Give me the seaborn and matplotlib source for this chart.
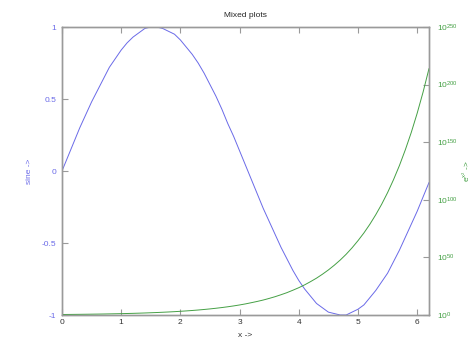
import numpy as np
import pandas as pd
import matplotlib
matplotlib.use("Agg")
import matplotlib.pyplot as plt
import seaborn as sns
from matplotlib.ticker import FixedLocator, FixedFormatter

# ---- data ----
x_vals = [round(0.1 * i, 1) for i in range(63)]  # 0.0 .. 6.2
sine_vals = [0.00, 0.10, 0.20, 0.30, 0.39, 0.48, 0.56, 0.64, 0.72, 0.78,
             0.84, 0.89, 0.93, 0.96, 0.99, 1.00, 1.00, 0.99, 0.97, 0.95,
             0.91, 0.86, 0.81, 0.75, 0.68, 0.60, 0.52, 0.43, 0.33, 0.24,
             0.14, 0.04, -0.06, -0.16, -0.26, -0.35, -0.44, -0.53, -0.61, -0.69,
             -0.76, -0.82, -0.87, -0.92, -0.95, -0.98, -0.99, -1.00, -1.00, -0.98,
             -0.96, -0.93, -0.88, -0.83, -0.77, -0.71, -0.63, -0.55, -0.46, -0.37,
             -0.28, -0.18, -0.08]
# exponents (base 10) of the green curve, read on the right log axis
exp_exponents = [0.43, 0.48, 0.53, 0.59, 0.65, 0.72, 0.79, 0.87, 0.97, 1.07,
                 1.18, 1.30, 1.44, 1.59, 1.76, 1.95, 2.15, 2.38, 2.63, 2.90,
                 3.21, 3.55, 3.92, 4.33, 4.79, 5.29, 5.85, 6.46, 7.14, 7.89,
                 8.72, 9.64, 10.7, 11.8, 13.0, 14.4, 15.9, 17.6, 19.4, 21.5,
                 23.7, 26.2, 29.0, 32.0, 35.4, 39.1, 43.2, 47.7, 52.7, 58.3,
                 64.5, 71.2, 78.7, 87.0, 96.1, 106.2, 117.4, 129.7, 143.4, 158.4,
                 175.1, 193.5, 213.9]
x_ticks = [0, 1, 2, 3, 4, 5, 6]
y1_ticks = [-1, -0.5, 0, 0.5, 1]
y1_labels = ["-1", "-0.5", "0", "0.5", "1"]
y2_exps = [0, 50, 100, 150, 200, 250]

title = "Mixed plots"
xlabel = "x ->"
y1label = "sine ->"
y2label = r"e$^{x^2}$ ->"

blue = "#6a6ae8"
green = "#45a045"
frame = "#9a9a9a"

sns.set_style("white")
plt.rcParams["font.family"] = ["Liberation Sans", "DejaVu Sans"]
plt.rcParams["mathtext.fontset"] = "custom"
plt.rcParams["mathtext.rm"] = "Liberation Sans"
plt.rcParams["mathtext.it"] = "Liberation Sans"

df = pd.DataFrame({"x": x_vals, "sine": sine_vals,
                   "expo": [10.0 ** e for e in exp_exponents]})

fig = plt.figure(figsize=(4.74, 3.55), dpi=100)
ax1 = fig.add_axes([62 / 474, 1 - 315 / 355, (429 - 62) / 474, (315 - 27) / 355])
ax2 = ax1.twinx()

sns.lineplot(data=df, x="x", y="sine", ax=ax1, color=blue, linewidth=0.7)
sns.lineplot(data=df, x="x", y="expo", ax=ax2, color=green, linewidth=0.7)

ax1.set_xlim(0, 6.2)
ax1.set_ylim(-1, 1)
ax2.set_yscale("log")
ax2.set_ylim(1, 1e250)

fs = 6
ax1.set_xticks(x_ticks)
ax1.set_xticklabels([str(t) for t in x_ticks])
ax1.set_yticks(y1_ticks)
ax1.set_yticklabels(y1_labels)
ax2.yaxis.set_major_locator(FixedLocator([10.0 ** e for e in y2_exps]))
ax2.yaxis.set_major_formatter(FixedFormatter([r"10$^{%d}$" % e for e in y2_exps]))
ax2.yaxis.set_minor_locator(FixedLocator([]))

ax1.tick_params(axis="x", direction="in", length=4, width=0.8, color=frame,
                labelsize=fs, labelcolor="#333333", top=True, bottom=True, pad=3)
ax1.tick_params(axis="y", direction="in", length=4, width=0.8, color=frame,
                labelsize=fs, labelcolor=blue, left=True, right=False, pad=4)
ax2.tick_params(axis="y", direction="in", length=4, width=0.8, color=frame,
                labelsize=fs, labelcolor=green, right=True, left=False, pad=6)
ax2.tick_params(axis="y", which="minor", length=0)

for ax in (ax1, ax2):
    for s in ax.spines.values():
        s.set_color(frame)
        s.set_linewidth(1.0)
        s.set_visible(True)

ax1.set_title(title, fontsize=fs, pad=7)
ax1.set_xlabel(xlabel, fontsize=fs, labelpad=4, color="#333333")
ax1.set_ylabel(y1label, fontsize=fs, color=blue, labelpad=6)
ax2.set_ylabel(y2label, fontsize=fs, color=green, labelpad=2)

fig.savefig("out.png", dpi=100)
